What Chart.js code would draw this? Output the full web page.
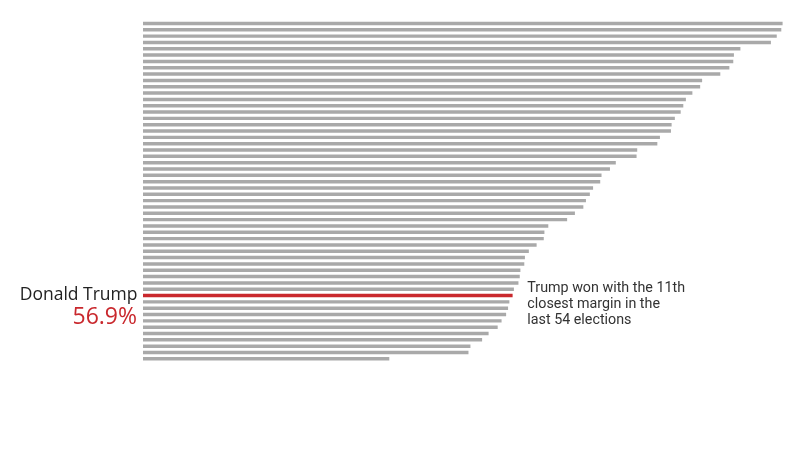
<!DOCTYPE html>
<html>
<head>
<meta charset="utf-8">
<script src="https://cdn.jsdelivr.net/npm/chart.js@4/dist/chart.umd.min.js"></script>
<style>
  html, body { margin: 0; padding: 0; background: #ffffff; }
  #wrap { position: relative; width: 800px; height: 450px; }
</style>
</head>
<body>
<div id="wrap"><canvas id="c" width="800" height="450"></canvas></div>
<script>
// Election years (categories), sorted by winner's share of the electoral vote
const years = [1936, 1820, 1984, 1972, 1804, 1864, 1980, 1964, 1932, 1956,
  1852, 1940, 1928, 1952, 1816, 1912, 1944, 1872, 1840, 1988,
  1920, 1832, 1868, 1924, 1904, 1996, 1808, 1992, 1828, 2008,
  1908, 1900, 1892, 1844, 2012, 1896, 1860, 1856, 1812, 1888,
  1880, 1836, 1948, 2016, 1960, 1848, 1968, 1976, 1884, 2004,
  1916, 2000, 1876, 1824];
// Winner's electoral vote share (%)
const shares = [98.5, 98.3, 97.6, 96.7, 92.0, 91.0, 90.9, 90.3, 88.9, 86.1,
  85.8, 84.6, 83.6, 83.2, 82.8, 81.9, 81.4, 81.3, 79.6, 79.2,
  76.1, 76.0, 72.8, 71.9, 70.6, 70.4, 69.3, 68.8, 68.2, 67.8,
  66.5, 65.3, 62.4, 61.8, 61.7, 60.6, 59.4, 58.8, 58.7, 58.1,
  58.0, 57.8, 57.1, 56.9, 56.4, 56.2, 55.9, 55.2, 54.6, 53.2,
  52.2, 50.4, 50.1, 37.9];
const highlightYear = 2016;
const highlightName = "Donald Trump";
const highlightLabel = "56.9%";
const noteLines = ["Trump won with the 11th", "closest margin in the", "last 54 elections"];

const GRAY = "#a9a9a9";
const RED = "#c9282d";
const FONT = "Roboto, 'Liberation Sans', sans-serif";
const FONT2 = "'Open Sans', Roboto, sans-serif";

const colors = years.map(y => y === highlightYear ? RED : GRAY);

const annot = {
  id: "annot",
  afterDatasetsDraw(chart) {
    const ctx = chart.ctx;
    const idx = years.indexOf(highlightYear);
    const bar = chart.getDatasetMeta(0).data[idx];
    const y = bar.y;
    const left = chart.chartArea.left;
    ctx.save();
    ctx.textBaseline = "alphabetic";
    ctx.textAlign = "right";
    ctx.fillStyle = "#222222";
    ctx.font = "400 17.5px " + FONT2;
    ctx.fillText(highlightName, left - 5.5, y + 4);
    ctx.fillStyle = RED;
    ctx.font = "400 23px " + FONT2;
    ctx.fillText(highlightLabel, left - 6, y + 28);
    ctx.textAlign = "left";
    ctx.fillStyle = "#333333";
    ctx.font = "400 14.3px " + FONT;
    const tx = bar.x + 15;
    noteLines.forEach((t, i) => ctx.fillText(t, tx, y - 4 + i * 16.3));
    ctx.restore();
  }
};

new Chart(document.getElementById("c"), {
  type: "bar",
  data: {
    labels: years,
    datasets: [{
      data: shares,
      backgroundColor: colors,
      borderWidth: 0,
      barThickness: 2.8,
      borderSkipped: false
    }]
  },
  options: {
    indexAxis: "y",
    responsive: false,
    animation: false,
    layout: { padding: { left: 143, right: 8, top: 20.3, bottom: 88 } },
    plugins: { legend: { display: false }, tooltip: { enabled: false } },
    scales: {
      x: { display: false, min: 0, max: 100 },
      y: { display: false }
    }
  },
  plugins: [annot]
});
</script>
</body>
</html>
